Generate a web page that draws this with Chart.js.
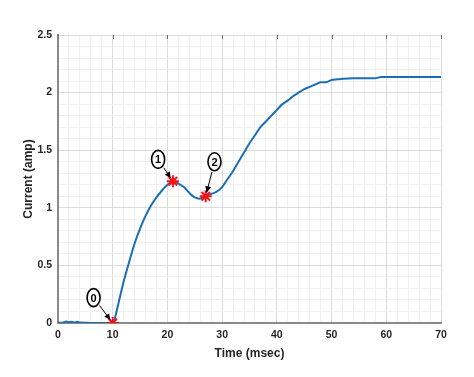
<!DOCTYPE html>
<html>
<head>
<meta charset="utf-8">
<script src="https://cdn.jsdelivr.net/npm/chart.js@4"></script>
<style>
  html, body { margin: 0; padding: 0; background: #fff; }
  #wrap { width: 474px; height: 377px; }
</style>
</head>
<body>
<div id="wrap"><canvas id="chart" width="474" height="377"></canvas></div>
<script>
// measured current response
const time = [0, 1, 1.5, 2, 2.5, 3, 3.5, 4, 5, 6, 7, 8, 9, 10, 10.5, 11, 12, 13, 14, 15, 16, 17, 18, 19, 20, 21,
  22, 23, 24, 25, 26, 27, 28, 29, 30, 31, 32, 33, 34, 35, 36, 37, 38, 39, 40, 41, 42, 43, 44, 45, 46, 47,
  48, 49, 50, 51, 52, 54, 56, 58, 59, 60, 62, 65, 70];
const current = [0, 0.005, 0.012, 0.006, 0.011, 0.004, 0.01, 0.004, 0.002, 0, 0, 0, 0, 0, 0.06, 0.16, 0.36, 0.53, 0.69, 0.82, 0.93, 1.02, 1.09, 1.15, 1.2, 1.23,
  1.21, 1.18, 1.13, 1.09, 1.08, 1.1, 1.12, 1.14, 1.18, 1.25, 1.32, 1.4, 1.48, 1.56, 1.63, 1.7, 1.75, 1.8, 1.85, 1.9, 1.93, 1.97, 2.0, 2.03, 2.05, 2.07,
  2.09, 2.09, 2.11, 2.115, 2.12, 2.125, 2.125, 2.125, 2.135, 2.135, 2.135, 2.135, 2.135];

// marked points and their callouts
const markTime = [10, 21, 27];
const markCurrent = [0, 1.23, 1.1];
const markLabels = ['0', '1', '2'];
const calloutTime = [6.5, 18.3, 28.6];
const calloutCurrent = [0.22, 1.42, 1.4];

const xTicks = [0, 10, 20, 30, 40, 50, 60, 70];
const yTicks = [0, 0.5, 1, 1.5, 2, 2.5];

const FONT = "'Liberation Sans', Arial, sans-serif";

const callouts = {
  id: 'callouts',
  afterDatasetsDraw(chart) {
    const { ctx, scales: { x, y }, chartArea } = chart;
    ctx.save();
    // small tick marks along the top edge
    ctx.strokeStyle = '#707070';
    ctx.lineWidth = 1;
    xTicks.forEach(t => {
      const px = Math.round(x.getPixelForValue(t)) + 0.5;
      ctx.beginPath();
      ctx.moveTo(px, chartArea.top);
      ctx.lineTo(px, chartArea.top + 4);
      ctx.stroke();
    });
    for (let i = 0; i < markLabels.length; i++) {
      const cx = x.getPixelForValue(calloutTime[i]);
      const cy = y.getPixelForValue(calloutCurrent[i]);
      const mx = x.getPixelForValue(markTime[i]);
      const my = y.getPixelForValue(markCurrent[i]);
      const rx = 6.5, ry = 9;
      const dx = mx - cx, dy = my - cy;
      const len = Math.hypot(dx, dy);
      const ux = dx / len, uy = dy / len;
      // start on ellipse edge
      const k = 1 / Math.sqrt((ux * ux) / (rx * rx) + (uy * uy) / (ry * ry));
      const sx = cx + ux * (k + 2), sy = cy + uy * (k + 2);
      const ex = mx - ux * 4, ey = my - uy * 4;
      ctx.strokeStyle = '#000';
      ctx.fillStyle = '#000';
      ctx.lineWidth = 1;
      ctx.beginPath();
      ctx.moveTo(sx, sy);
      ctx.lineTo(ex, ey);
      ctx.stroke();
      // arrow head
      const ah = 6, aw = 3;
      ctx.beginPath();
      ctx.moveTo(ex, ey);
      ctx.lineTo(ex - ux * ah - uy * aw, ey - uy * ah + ux * aw);
      ctx.lineTo(ex - ux * ah + uy * aw, ey - uy * ah - ux * aw);
      ctx.closePath();
      ctx.fill();
      // ellipse with number
      ctx.beginPath();
      ctx.ellipse(cx, cy, rx, ry, 0, 0, Math.PI * 2);
      ctx.fillStyle = '#fff';
      ctx.fill();
      ctx.lineWidth = 1.6;
      ctx.stroke();
      ctx.fillStyle = '#000';
      ctx.font = 'bold 11px ' + FONT;
      ctx.textAlign = 'center';
      ctx.textBaseline = 'middle';
      ctx.fillText(markLabels[i], cx, cy + 1);
    }
    ctx.restore();
  }
};

const isMajor = (v, step) => Math.abs(v / step - Math.round(v / step)) < 1e-6;

new Chart(document.getElementById('chart'), {
  type: 'line',
  data: {
    datasets: [
      {
        data: time.map((t, i) => ({ x: t, y: current[i] })),
        borderColor: '#1a6fb4',
        borderWidth: 2,
        pointRadius: 0,
        tension: 0.25,
        fill: false,
        order: 2
      },
      {
        data: markTime.map((t, i) => ({ x: t, y: markCurrent[i] })),
        showLine: false,
        pointStyle: 'star',
        pointRadius: 6,
        borderColor: '#ff1010',
        backgroundColor: '#ff1010',
        pointBorderWidth: 2,
        order: 1
      }
    ]
  },
  options: {
    responsive: false,
    animation: false,
    layout: { padding: { top: 35, right: 33, left: 0, bottom: 16 } },
    plugins: {
      legend: { display: false },
      tooltip: { enabled: false }
    },
    scales: {
      x: {
        type: 'linear',
        min: 0,
        max: 70,
        afterFit: s => { s.height = 38; },
        ticks: {
          stepSize: 2,
          autoSkip: false,
          maxRotation: 0,
          padding: 6,
          color: '#262626',
          font: { family: FONT, size: 10.5, weight: 'bold' },
          callback: v => (isMajor(v, 10) ? v : '')
        },
        grid: {
          drawTicks: false,
          color: c => (isMajor(c.tick.value, 10) ? '#dcdcdc' : '#f0f0f0'),
          lineWidth: 1
        },
        border: { color: '#8a8a8a', width: 2 },
        title: {
          display: true,
          text: 'Time (msec)',
          color: '#262626',
          font: { family: FONT, size: 12, weight: 'bold' },
          padding: { top: 2, bottom: 0 }
        }
      },
      y: {
        min: 0,
        max: 2.5,
        afterFit: s => { s.width = 58; },
        ticks: {
          stepSize: 0.1,
          autoSkip: false,
          padding: 6,
          color: '#262626',
          font: { family: FONT, size: 10.5, weight: 'bold' },
          callback: v => (isMajor(v, 0.5) ? +v.toFixed(1) : '')
        },
        grid: {
          drawTicks: false,
          color: c => (isMajor(c.tick.value, 0.5) ? '#dcdcdc' : '#f0f0f0'),
          lineWidth: 1
        },
        border: { color: '#8a8a8a', width: 2 },
        title: {
          display: true,
          text: 'Current (amp)',
          color: '#262626',
          font: { family: FONT, size: 12, weight: 'bold' },
          padding: { top: 21, bottom: 0 }
        }
      }
    }
  },
  plugins: [callouts]
});
</script>
</body>
</html>
